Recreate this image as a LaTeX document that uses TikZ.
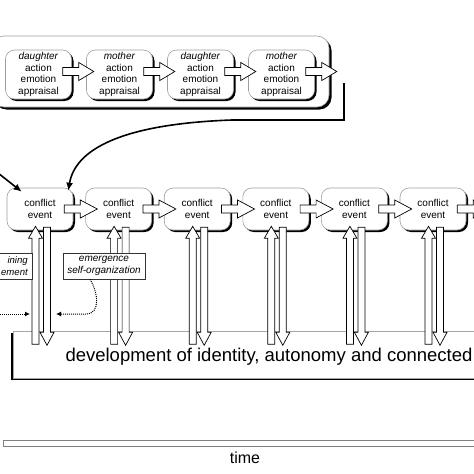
\documentclass[tikz,border=0pt]{standalone}
\usepackage{fontspec}
\setmainfont{Liberation Sans}
\usetikzlibrary{positioning, calc, arrows.meta, shadows}

\begin{document}
\begin{tikzpicture}[x=1pt, y=-1pt,
    actbox/.style={draw=gray!75, fill=white, rounded corners=9pt, line width=0.6pt,
        minimum width=66pt, minimum height=49pt, inner sep=0pt, align=center,
        font=\fontsize{10}{11.6}\selectfont,
        general shadow={fill=black, shadow xshift=2pt, shadow yshift=-2pt}},
    evbox/.style={actbox, minimum height=42pt, font=\fontsize{10}{12}\selectfont},
    framebox/.style={draw=gray!75, fill=white, rounded corners=12pt, line width=0.6pt,
        minimum width=337pt, minimum height=71pt,
        general shadow={fill=black, shadow xshift=2.5pt, shadow yshift=-2.5pt}},
    devbox/.style={draw=gray!70, fill=white, line width=0.6pt,
        minimum width=477pt, minimum height=47pt,
        general shadow={fill=black, shadow xshift=-2pt, shadow yshift=-2pt}},
    notebox/.style={draw=black!80, fill=white, line width=0.6pt, inner sep=1pt,
        minimum width=82pt, minimum height=26pt, align=center,
        font=\itshape\fontsize{10}{11.5}\selectfont},
    blk/.style={draw=black, fill=white, line width=0.7pt, line join=miter},
    bigarrow/.style={line width=1.6pt, -{Latex[length=8pt, width=7pt]}},
    dotarrow/.style={line width=1pt, dash pattern=on 1pt off 1pt,
        -{Latex[length=5pt, width=5pt]}}
]

    \useasboundingbox (0,0) rectangle (474,474);
    \clip (0,0) rectangle (474,474);

    % --- Top frame with the daughter / mother exchange ---
    \node[framebox] (frame) at (160.5,71.5) {};
    \node[actbox] (d1) at (38.5,74.5) {\textit{daughter}\\action\\emotion\\appraisal};
    \node[actbox, right=14.4pt of d1] (d2) {\textit{mother}\\action\\emotion\\appraisal};
    \node[actbox, right=14.4pt of d2] (d3) {\textit{daughter}\\action\\emotion\\appraisal};
    \node[actbox, right=14.4pt of d3] (d4) {\textit{mother}\\action\\emotion\\appraisal};

    \foreach \a in {d1,d2,d3,d4}
        \draw[blk] ([xshift=-9pt, yshift=7pt]\a.east) -- ++(16,0) -- ++(0,-5)
            -- ++(15,9) -- ++(-15,9) -- ++(0,-5) -- ++(-16,0) -- cycle;

    % --- Development box (behind the vertical arrows) ---
    \node[devbox] (dev) at (251.5,354.5) {};
    \node[anchor=west, font=\fontsize{18.5}{20}\selectfont] (devtext) at (62,357)
        {development of identity, autonomy and connected};

    % --- Row of conflict events ---
    \node[evbox] (c1) at (40,209) {conflict\\event};
    \node[evbox, right=12pt of c1] (c2) {conflict\\event};
    \node[evbox, right=12pt of c2] (c3) {conflict\\event};
    \node[evbox, right=12pt of c3] (c4) {conflict\\event};
    \node[evbox, right=12pt of c4] (c5) {conflict\\event};
    \node[evbox, right=12pt of c5] (c6) {conflict\\event};

    \foreach \a in {c1,c2,c3,c4,c5,c6}
        \draw[blk] ([xshift=-9pt, yshift=4pt]\a.east) -- ++(16,0) -- ++(0,-5)
            -- ++(17,9) -- ++(-17,9) -- ++(0,-5) -- ++(-16,0) -- cycle;

    % up arrow (left) and down arrow (right) under each event
    \foreach \i in {1,...,6} {
        \draw[blk] ([xshift=-4.5pt, yshift=4pt]c\i.south) -- ++(7,12) -- ++(-3.5,0)
            -- ++(0,106) -- ++(-7,0) -- ++(0,-106) -- ++(-3.5,0) -- cycle;
        \draw[blk] ([xshift=3.5pt, yshift=3pt]c\i.south) -- ++(0,105) -- ++(-3.5,0)
            -- ++(7,13) -- ++(7,-13) -- ++(-3.5,0) -- ++(0,-105) -- cycle;
    }

    % --- Notes between the arrows ---
    \draw[draw=black!80, fill=white, line width=0.6pt] (-10,253) rectangle (32,279);
    \node[font=\itshape\fontsize{9.6}{11.5}\selectfont, align=right, anchor=east,
        inner sep=1pt] (maint) at (29,266) {ining\\ement};
    \node[notebox] (emerg) at (104,266) {emergence\\self-organization};

    \coordinate (dotsrc) at (-2,314);
    \coordinate (hitL) at (30,314);
    \coordinate (hitR) at (56,314);
    \draw[dotarrow] (dotsrc) -- (hitL);
    \draw[dotarrow] ([xshift=-14pt]emerg.south) .. controls (98,292) and (101,314) .. (86,314) -- (hitR);

    % --- Feedback from the exchange into the first event ---
    \coordinate (loopend) at (344,83);
    \draw[bigarrow] (loopend) -- (344,120) -- (232,120)
        .. controls (120,124) and (75,150) .. ($(c1.north east)+(-5,3)$);
    \coordinate (feedin) at (-2,173);
    \draw[bigarrow] (feedin) -- ($(c1.north west)+(15,4)$);

    % --- Time axis ---
    \node[draw=gray, line width=0.6pt, fill=white, minimum width=487pt,
        minimum height=6pt, inner sep=0pt] (bar) at (246.5,443.5) {};
    \node[font=\fontsize{16}{18}\selectfont] (time) at (245,458) {time};

\end{tikzpicture}
\end{document}
